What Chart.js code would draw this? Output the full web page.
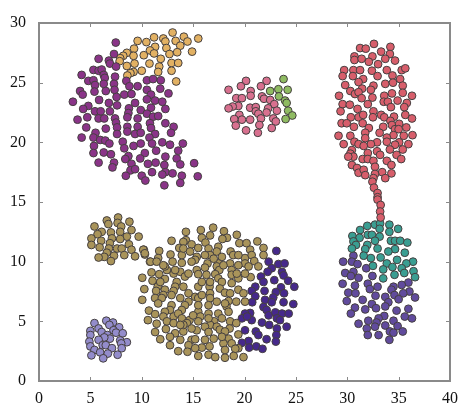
<!DOCTYPE html>
<html>
<head>
<meta charset="utf-8">
<style>
  html, body { margin: 0; padding: 0; background: #fff; }
  #box { width: 474px; height: 417px; }
</style>
<script src="https://cdn.jsdelivr.net/npm/chart.js@4"></script>
</head>
<body>
<div id="box"><canvas id="clusters"></canvas></div>
<script>
const xTicks = [0, 5, 10, 15, 20, 25, 30, 35, 40];
const yTicks = [0, 5, 10, 15, 20, 25, 30];

const plum = [[7.47,28.36],[7.3,27.4],[5.8,27],[6.8,26.85],[6.9,26.6],[7.5,26.35],[5.3,26.07],[5.8,26],[6.1,26.1],[4.15,25.65],[6.3,25.65],[6.4,25.4],[7.4,25.5],[4.8,25.15],[5.3,25.2],[5.45,24.8],[6.3,24.9],[7.3,24.9],[8.5,25.15],[8.8,24.7],[9.6,24.7],[10.5,25.2],[11.1,25.3],[11.85,25.2],[11.8,24.5],[12.6,24.1],[10.5,24.4],[4,24.3],[4.25,24],[5.4,24.25],[6.5,24.3],[7.35,24.4],[7.55,23.8],[8.3,24],[9,24.05],[9.35,23.3],[10.9,24],[11.3,23.5],[10.5,23.6],[12,23.4],[3.3,23.4],[5.85,23.55],[6.8,23.3],[7.6,23.1],[4.8,23.05],[4.3,22.8],[5.45,22.6],[6,22.6],[6.9,22.6],[8.75,22.85],[9.9,22.7],[10.9,22.9],[12.3,22.8],[8.7,22.45],[10.5,22.4],[8.6,22.1],[11.1,22.15],[11.6,22.2],[3.75,21.9],[4.7,22.1],[5.8,22],[6.35,22],[7.4,22],[9.6,22],[7.5,21.65],[12.3,21.6],[10.8,21.6],[13.1,21.3],[7.6,21.25],[8.6,21.3],[9.6,21.3],[10.9,21.2],[6.5,21.15],[4.6,21.25],[12.85,20.8],[7.6,20.7],[8.6,20.9],[9.35,20.7],[9.9,20.8],[11.3,20.7],[5.5,20.8],[5.3,20.4],[4.15,20.4],[10.75,20.4],[5.95,20.2],[6.45,20.15],[6.85,19.9],[8.15,20.05],[12,20],[12.75,19.8],[14,19.9],[5.35,19.7],[9.2,19.7],[9.9,19.9],[11,19.9],[8.3,19.5],[13.55,19.3],[11.4,19.3],[5.3,19.1],[6.3,19.15],[7,19],[10.3,19.1],[9.85,18.65],[8.7,18.85],[8.4,18.6],[12.3,18.8],[13.4,18.65],[5.8,18.3],[7.3,18.3],[7.15,17.9],[9,18.2],[10.6,18.2],[11.35,18.3],[12.2,18.1],[13.75,18.15],[15.1,18.25],[8.9,17.65],[9.35,17.75],[11,17.5],[12.3,17.5],[12,17.3],[13,17.4],[8.45,17.2],[10,17.2],[13.9,17.2],[15.45,17.15],[10.35,16.8],[13.75,16.6],[12.2,16.4]];

const amber = [[13,29.2],[11.2,28.8],[9.6,28.5],[10.45,28.4],[12.1,28.7],[12.3,28.45],[14.1,28.85],[13.3,28.5],[14.45,28.45],[15.5,28.7],[11.3,28],[9.25,27.85],[10.8,27.7],[12.4,27.9],[13.75,28.1],[13.45,27.55],[14.9,27.6],[11.2,27.45],[10.2,27.3],[12.7,27.4],[8.55,27.5],[9.2,27.25],[8.2,27.25],[7.9,27.05],[7.85,26.8],[11.85,27],[9.3,26.6],[10.75,26.6],[12.9,26.65],[13.55,26.65],[8.55,26.4],[11.7,26.35],[12.9,26],[10,26],[11.6,25.9],[9.2,25.9],[8.9,25.8],[8.6,25.6],[13.35,25.1]];

const rose = [[20.15,25.15],[19.65,24.7],[22.15,25.15],[21.6,24.7],[18.45,24.4],[20.6,24.3],[20.6,23.9],[19.2,23.7],[19.75,23.7],[21.7,23.85],[21.9,23.65],[22.5,23.55],[22.9,23.2],[19.4,23.05],[18.85,23],[18.45,22.85],[20.55,22.9],[21.1,22.95],[21.1,22.6],[22.3,22.85],[23.15,22.65],[22.15,22.5],[21.35,22.4],[21.6,22],[19.5,22.3],[19.75,21.9],[19,21.95],[20.55,21.9],[22.8,22],[23.05,21.75],[19.15,21.4],[21.45,21.45],[22.65,21.2],[20.15,21],[21.3,20.8]];

const leaf = [[23.8,25.3],[22.5,24.3],[23.3,24.45],[24.2,24.4],[23.35,23.85],[23.95,23.5],[24.1,23.3],[24.25,22.65],[24.65,22.25],[24,21.95]];

const coral = [[32.6,28.25],[31.25,27.9],[31.8,27.85],[34.2,28],[33.3,27.6],[34.15,27.4],[30.7,27.2],[30.7,26.9],[31.4,27],[32.45,27.2],[32.1,26.75],[33.7,27],[34.65,26.85],[33,26.55],[29.7,26.05],[30.6,26.05],[31.25,26.05],[29.55,25.55],[30.55,25.55],[32.4,26],[33.85,26.05],[35.3,26.05],[35.65,26.2],[32.95,25.55],[34.4,25.6],[35.15,25.3],[31.55,25.3],[31.1,25.05],[29.8,24.8],[33.7,24.9],[34.45,25],[35.4,24.75],[32.55,24.75],[32.3,24.4],[31.45,24.5],[30.3,24.3],[30.75,24.05],[31.1,24.2],[34.35,24.1],[35.4,24.15],[29.2,23.9],[31.4,23.7],[32.45,23.75],[33.6,23.9],[33.55,23.4],[33.95,23.4],[34.9,23.5],[36.3,23.9],[29.55,23.2],[30.25,23.15],[32,23.2],[34.25,22.95],[35.8,23.3],[35.55,22.95],[29.35,22.6],[31,22.8],[32.55,22.6],[32.5,22.1],[33.3,22.3],[33.6,22.1],[31.1,22.1],[31.55,22.3],[30.35,22.1],[35.65,22.3],[34.55,22.15],[36.3,22],[29.45,21.6],[29.95,21.6],[31.5,21.6],[34.2,21.8],[34.35,21.45],[35.05,21.55],[33.5,21.3],[30.65,21.3],[32.1,21.2],[34.65,21.1],[35.75,21.25],[35,21.1],[33.15,20.8],[31.75,20.8],[29.15,20.55],[30.3,20.55],[34.5,20.6],[33.85,20.4],[35.5,20.55],[36.35,20.6],[31.75,20.35],[30.7,20.05],[31.1,19.85],[29.65,19.85],[32.9,20],[32.3,19.85],[33.85,20.05],[35.05,20],[34.65,19.8],[35.95,19.85],[31.6,19.7],[34.15,19.4],[35.4,19.4],[30.45,19.35],[30.3,19.05],[30.6,18.8],[30.1,18.8],[32,19.1],[32.9,19.25],[33.2,18.95],[34.8,18.95],[35.25,18.6],[31.5,18.6],[32,18.6],[32.55,18.45],[33.85,18.45],[30.45,18.1],[34.3,18.1],[30.95,17.85],[31.1,17.45],[31.6,17.7],[31.75,17.25],[32.7,17.95],[33.4,17.5],[34.3,17.4],[32.7,17.35],[32.55,17],[32.45,16.7],[33.7,17],[32.6,16.2],[32.95,15.75],[32.95,15.4],[32.95,15.2],[33.25,14.75],[33.2,14.2],[33.25,13.7]];

const teal = [[31.95,13],[31.25,12.65],[32.7,13.1],[33.2,13.2],[33.15,12.75],[34.1,13.1],[34.1,12.5],[34.95,12.75],[30.5,12.15],[31.2,12],[32,12.25],[32.4,12.25],[33.15,12.1],[32.7,11.75],[30.6,11.7],[30.85,11.4],[30.45,11.1],[34.25,11.75],[34.65,11.75],[35.15,11.75],[35.85,11.6],[31.95,11.4],[31.75,11.05],[32.95,11.1],[34.65,11.05],[34,10.85],[35.6,10.75],[31.6,10.5],[32.3,10.3],[33.25,10.35],[32.5,9.65],[34.85,10.15],[33.85,9.85],[36.4,10],[35.75,9.85],[34.4,9.55],[33.5,9.35],[35.3,9.45],[35.55,9.05],[34.6,8.9],[36.45,9.2],[36.6,8.7],[33.5,8.6]];

const violet = [[30.6,10.5],[29.6,10],[30.45,10],[31,9.8],[31.85,9.45],[29.8,9.05],[30.6,9.15],[30.35,8.8],[31.1,8.65],[32.45,8.8],[29.55,8.15],[30.75,8],[32,8.15],[32.95,7.9],[32.2,7.7],[35.95,8.25],[35.3,8.05],[34.5,7.9],[34.3,7.65],[36.05,7.5],[35.45,7.35],[30.1,7.4],[30.8,7.35],[32.75,7.15],[34.6,7.2],[36.6,7],[33.7,7.05],[35,6.85],[29.95,6.7],[31.5,6.8],[34,6.6],[32.4,6.45],[33.7,6.25],[30.75,6.15],[32.8,6.1],[31.75,6],[30.35,5.65],[35.95,6.05],[34.8,5.9],[33.6,5.45],[35.6,5.4],[36.3,5.25],[32.05,5.05],[33.05,5.25],[34.5,5.05],[31.1,4.8],[32.85,4.9],[31.9,4.4],[32.7,4.55],[33.7,4.65],[34.9,4.6],[34.15,4.15],[34.5,4.05],[35.4,4.15],[32,3.85],[33.05,3.85],[34.1,3.45]];

const periwinkle = [[5.4,4.85],[6.55,5.05],[7.2,4.9],[6.85,4.7],[7.8,4.5],[5,4.2],[5.8,4.4],[6.1,4.1],[7.25,4.25],[7.5,4.05],[8.15,4],[5,3.85],[6.65,3.85],[6.9,3.55],[6.35,3.65],[5.8,3.45],[4.9,3.3],[7.9,3.4],[8.55,3.25],[8,3.15],[6.2,3],[6.5,3],[5,2.9],[5.4,2.6],[7.1,2.75],[8.05,2.75],[5.95,2.4],[6.7,2.3],[5.1,2.15],[7.65,2.2],[6.25,1.9]];

const olive = [[6.6,13.45],[6.75,13.15],[7.7,13.7],[7.65,13.25],[8,12.95],[7.9,12.5],[8.8,13.35],[5.4,12.95],[9,12.65],[7,12.45],[6.1,12.5],[5.7,12.3],[9.7,12.1],[8.55,12.1],[7.1,11.95],[5.1,11.95],[6.05,11.75],[7.9,11.9],[5.1,11.4],[5.9,11.2],[6.9,11.55],[6.8,11.1],[7.6,11.1],[8.05,11.1],[8.75,11.45],[9,11],[10.2,11],[8.3,10.55],[10.3,10.6],[9.35,10.45],[6.6,10.75],[6.35,10.4],[5.8,10.35],[7.3,10.5],[7,10.05],[10.8,10],
  [16.95,12.85],[15.75,12.65],[14.3,12.5],[16.65,12.2],[15.85,12],[18,12.55],[18.3,12],[17.85,11.9],[19.25,12.25],[12.9,11.75],[14.3,11.8],[14.05,11.65],[14.85,11.45],[16.2,11.6],[19.5,11.55],[20.2,11.55],[21.25,11.7],[17.45,11.25],[13.65,11.15],[15.5,11.15],[16.5,11.1],[21.85,11.15],[11.7,10.9],[10.15,11],[10.3,10.7],[20.55,11],[12.8,10.6],[13.9,10.55],[15.35,10.4],[15.2,10.15],[14.85,10],[16.65,10.55],[17.3,10.85],[17.8,10.4],[18.65,10.85],[20.05,10.3],[20.05,9.85],[20.7,10.55],[20.95,10.05],[21.85,10.55],[10.85,10],[11.6,10.3],[11.45,10],[13,10],[12.45,9.3],[12.25,9.6],[13.9,9.9],[16.4,9.85],[16.15,9.5],[17.45,9.85],[17.3,9.6],[17.55,9.3],[18.6,9.85],[19.4,9.7],[21.35,9.6],[13.1,9],[10.95,9.1],[11.7,8.95],[13.75,9.15],[14.2,8.75],[14.55,9],[15.35,9.3],[15.5,8.95],[17.15,8.95],[17.45,8.6],[17.8,8.3],[18.75,9.3],[18.75,8.9],[18.75,8.2],[19.4,8.6],[20.6,8.7],[10.05,8.65],[12.25,8.55],[11.05,8.4],[13.4,8.3],[13.25,7.9],[13.1,7.55],[10.25,7.7],[11.55,7.9],[12.25,7.65],[11.4,7.55],[12.9,7.2],[12.1,7.2],[11.3,6.95],[11.95,6.95],[10.05,6.8],[11.6,6.5],[15.5,7.9],[15.2,7.05],[15.5,6.95],[14.55,6.65],[14.2,6.35],[15.85,7.2],[16.6,7.9],[16.65,7.35],[16.65,6.95],[17.6,7.75],[18.1,7.4],[18.6,7.35],[19.4,7.65],[19.9,7.35],[20.05,6.65],[18.45,6.7],[19.2,6.65],[18.25,6.25],[12.9,6.35],[12.75,5.95],[12.25,5.8],[10.7,5.9],[11.3,5.6],[10.6,5.1],[11.45,4.8],[12.1,5.4],[12.45,5],[13.1,5.4],[13.9,5.95],[13.55,5.65],[13.9,5.25],[14.65,5.1],[15.5,5.8],[15.7,5.4],[15.5,5],[16.5,5.65],[17.45,5.65],[17.8,5.25],[17.05,5],[16.65,4.7],[16.15,4.55],[17.3,4.55],[17.6,4.3],[16.5,4.1],[18.45,5.8],[18.6,5],[19.2,4.85],[18.55,4.4],[14.4,4.85],[13.1,4.85],[12.35,4.35],[14.05,4.15],[13.25,4],[11.3,4.1],[12.75,3.7],[11.8,3.5],[14.85,3.45],[15.2,3.5],[13.75,3.45],[19.4,3.9],[18.45,3.55],[18.75,3.15],[17.95,3.15],[12.75,3],[14.55,3],[15.85,2.8],[16.6,2.9],[15.2,2.75],[19.4,2.75],[19.1,2.7],[18.1,2.6],[13.55,2.5],[14.45,2.45],[15.5,2.1],[16.5,2.2],[17.15,2],[18.1,1.95],[18.95,2.1],[19.9,2],
  [14.05,7.9],[14.55,7.35],[16.3,8.9],[16.65,8.3],[15.85,8.3],[18.1,6.5],[17.3,6.65],[16.5,6.35],[15.5,6.35],[16.5,5.25],[15,5.5],[14.05,4.7],[15.35,4.25],[14.85,4.4],[13.75,4.7],[18.1,4.15],[17,3.55],[16.15,3.45],[17.8,3.7],[11.8,8.3],[13.75,6.95],[18.9,10.55],[19.4,10.55],[14.05,11.1],[12.1,9.7],[13.25,9.3],[14.7,10.85],[16.15,10.55],[17.95,9.7],[19.25,9],[20.05,9],[20.4,9.6],[17,10.25]];

const indigo = [[23.1,10.9],[22.35,10],[23.3,9.8],[23.9,9.85],[22.65,9.45],[22.25,9.15],[23.65,9.15],[23.8,8.85],[21.6,8.75],[21.85,8.3],[22.9,8.45],[24.25,8.4],[24.85,7.9],[21.05,7.9],[20.7,7.55],[23.55,7.85],[21.95,7.55],[23.05,7.45],[22.8,7],[23.85,7.35],[23.8,6.6],[21.05,7.1],[20.75,6.6],[22,6.8],[22.65,6.6],[24.75,6.45],[21.85,6.2],[22.15,5.95],[20.55,5.7],[20.05,5.65],[19.75,5.25],[20.7,5.1],[20.25,5.4],[22.35,5.5],[23,5.75],[23.65,5.65],[24.3,5.65],[23.15,5.25],[21.7,4.9],[22.4,4.7],[23.45,5.1],[20.05,4.25],[21.1,4.15],[21.35,3.85],[24.1,4.55],[23.15,4.4],[22.15,3.5],[23.1,3.85],[23.05,3.3],[20.4,3.35],[19.75,3.2],[21.15,2.9],[20.45,2.8],[21.75,2.7]];

const clusters = [
  [coral, '#d75e6b'],
  [plum, '#8a3488'],
  [amber, '#e2b163'],
  [rose, '#d8708f'],
  [leaf, '#8fbb62'],
  [teal, '#3a9e92'],
  [violet, '#614b9d'],
  [periwinkle, '#938ccb'],
  [olive, '#a9945a'],
  [indigo, '#46298b'],
];

const AXIS_COLOR = '#8a8a8a';

// frame on top and right plus short inward ticks on all four sides
const frameTicks = {
  id: 'frameTicks',
  afterDatasetsDraw(chart) {
    const { ctx, chartArea: a, scales } = chart;
    ctx.save();
    ctx.strokeStyle = AXIS_COLOR;
    ctx.lineWidth = 2;
    ctx.strokeRect(a.left, a.top, a.right - a.left, a.bottom - a.top);
    ctx.lineWidth = 1;
    ctx.beginPath();
    xTicks.forEach(v => {
      const px = Math.round(scales.x.getPixelForValue(v)) + 0.5;
      ctx.moveTo(px, a.bottom); ctx.lineTo(px, a.bottom - 4);
      ctx.moveTo(px, a.top); ctx.lineTo(px, a.top + 4);
    });
    yTicks.forEach(v => {
      const py = Math.round(scales.y.getPixelForValue(v)) + 0.5;
      ctx.moveTo(a.left, py); ctx.lineTo(a.left + 4, py);
      ctx.moveTo(a.right, py); ctx.lineTo(a.right - 4, py);
    });
    ctx.stroke();
    ctx.restore();
  }
};

const tickFont = { family: '"Liberation Serif", serif', size: 16 };

new Chart(document.getElementById('clusters'), {
  type: 'scatter',
  data: {
    datasets: clusters.map(([points, color]) => ({
      data: points.map(([x, y]) => ({ x, y })),
      backgroundColor: color,
      borderColor: '#454040',
      borderWidth: 1,
      pointRadius: 3.9,
    })),
  },
  plugins: [frameTicks],
  options: {
    responsive: true,
    maintainAspectRatio: false,
    animation: false,
    layout: { padding: { top: 23, right: 24, left: 0, bottom: 0 } },
    plugins: { legend: { display: false }, tooltip: { enabled: false } },
    scales: {
      x: {
        type: 'linear',
        min: 0,
        max: 40,
        grid: { display: false },
        border: { display: false },
        afterFit(scale) { scale.height = 36; },
        afterBuildTicks(scale) { scale.ticks = xTicks.map(value => ({ value })); },
        ticks: { font: tickFont, color: '#111', maxRotation: 0, padding: 0 },
      },
      y: {
        type: 'linear',
        min: 0,
        max: 30,
        grid: { display: false },
        border: { display: false },
        afterFit(scale) { scale.width = 39; },
        afterBuildTicks(scale) { scale.ticks = yTicks.map(value => ({ value })); },
        ticks: { font: tickFont, color: '#111', padding: 5 },
      },
    },
  },
});
</script>
</body>
</html>
